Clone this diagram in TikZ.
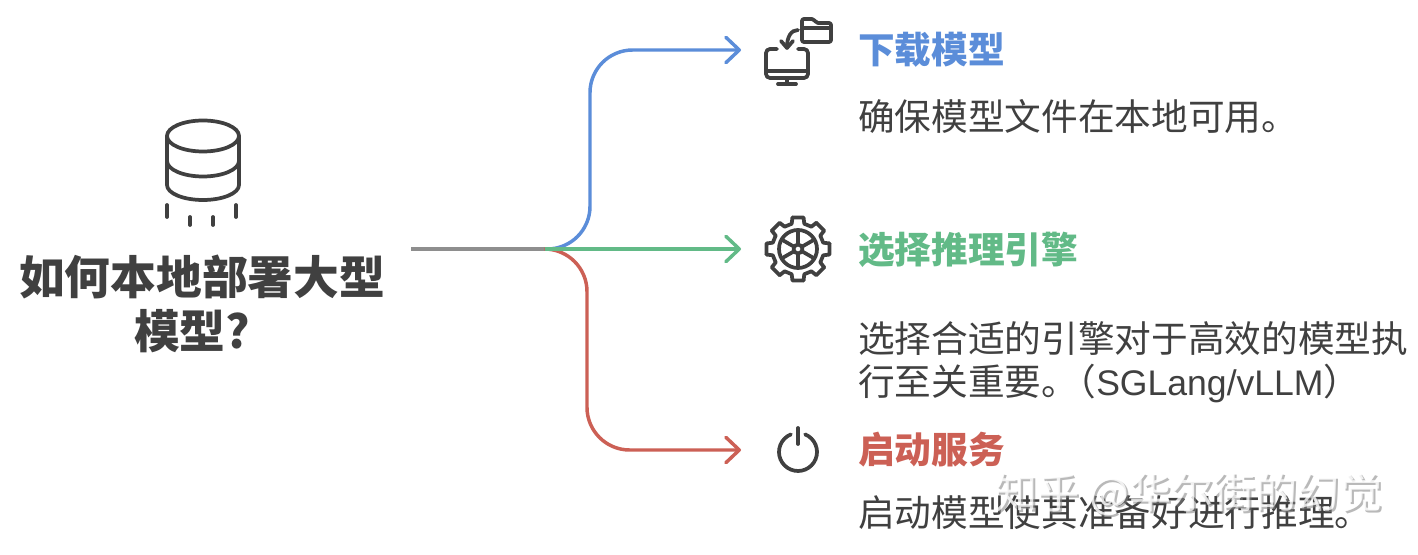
\documentclass[tikz,border=0pt]{standalone}
\usepackage{fontspec}
\setmainfont{Noto Sans CJK SC}
\newfontfamily\latinfont[Scale=0.97]{Liberation Sans}
\usepackage{tikz}
\usetikzlibrary{arrows.meta}
\definecolor{dlblue}{HTML}{5B8DD9}
\definecolor{enggreen}{HTML}{62BA87}
\definecolor{runred}{HTML}{CC6055}
\definecolor{stemgray}{HTML}{8E8E8E}
\definecolor{inkgray}{HTML}{404040}

\begin{document}
\begin{tikzpicture}[x=0.75pt,y=-0.75pt,
    link/.style={line width=2.6pt, rounded corners=32pt, -{Straight Barb[length=10pt,width=19pt,line width=2.6pt,round]}},
    icon/.style={draw=inkgray, line width=2.8pt, line cap=round, line join=round},
    titletext/.style={text=inkgray, font=\fontsize{34.3}{41}\selectfont\bfseries, align=center, inner sep=0},
    headtext/.style={anchor=base west, inner sep=0, font=\fontsize{27.5}{32}\selectfont\bfseries},
    bodytext/.style={anchor=base west, inner sep=0, text=inkgray, align=left, font=\fontsize{27.5}{32.3}\selectfont},
    markfont/.style={inner sep=0, font=\fontsize{31.6}{36}\selectfont}]
    \useasboundingbox (0,0) rectangle (1418,555);
    \fill[white] (0,0) rectangle (1418,555);

    \coordinate (stem) at (411,249);
    \coordinate (fork) at (545,249);
    \coordinate (upbend) at (590,150);
    \coordinate (lowbend) at (587,350);
    \coordinate (dlend) at (741,50);
    \coordinate (engend) at (741,249);
    \coordinate (runend) at (741,450);

    \draw[draw=stemgray, line width=2.6pt] (stem) -- (fork);
    \draw[link, draw=dlblue] (fork) -| (upbend) |- (dlend);
    \draw[link, draw=runred] (fork) -| (lowbend) |- (runend);
    \draw[link, draw=enggreen, rounded corners=0pt] (fork) -- (engend);

    % database
    \draw[icon] (203,136) ellipse (36 and 15.5);
    \draw[icon] (167,136) -- (167,185) arc (180:0:36 and 15) -- (239,136);
    \draw[icon] (167,161) arc (180:0:36 and 15.5);
    \foreach \x/\ya/\yb in {167/205/217, 190/217/225, 213/217/225, 236/205/217}
        \draw[icon] (\x,\ya) -- (\x,\yb);

    % monitor and folder
    \draw[icon, rounded corners=3pt] (777,49) -- (766,49) -- (766,78) -- (808,78) -- (808,49) -- (798,49);
    \draw[icon] (766,71) -- (808,71);
    \draw[icon] (787,78) -- (787,84) (778,84) -- (796,84);
    \draw[icon, rounded corners=1.5pt] (802,42) -- (802,19) -- (814,19) -- (816,23) -- (831,23) -- (831,42) -- cycle;
    \draw[icon] (804,28) -- (829,28);
    \draw[icon] (798,30) .. controls (791,30) and (787,37) .. (787,47);
    \draw[icon] (781,41) -- (787,48) -- (793,41);

    % gear
    \begin{scope}[shift={(798,249)}]
        \foreach \a in {0,45,...,315}
            \draw[icon] (\a-10:32) -- (\a+10:32) -- (\a+14:26) -- (\a+31:26) -- (\a+35:32);
        \draw[icon] (0,0) circle (19);
        \draw[icon] (0,0) circle (4.5);
        \foreach \a in {30,90,...,330}
            \draw[icon] (\a:4.5) -- (\a:19);
    \end{scope}

    % power
    \draw[icon] (798,452) ++(-68:19) arc (-68:248:19);
    \draw[icon] (798,428) -- (798,444);

    \node[titletext] (title) at (202,304) {如何本地部署大型\\模型?\hspace*{15pt}};

    \node[headtext, text=dlblue] (dlhead) at (858,64) {下载模型};
    \node[bodytext] (dlbody) at (858,131) {确保模型文件在本地可用。};
    \node[headtext, text=enggreen] (enghead) at (858,264) {选择推理引擎};
    \node[bodytext] (engbody) at (858,396) {选择合适的引擎对于高效的模型执\\行至关重要。\kern-14pt（{\latinfont SGLang/vLLM}）};
    \node[headtext, text=runred] (runhead) at (858,464) {启动服务};
    \node[bodytext] (runbody) at (858,527) {启动模型使其准备好进行推理。};

    \node[markfont, text=gray, opacity=0.55] (markshade) at (1191,496) {知乎 @华尔街的幻觉};
    \node[markfont, text=white, opacity=0.8] (mark) at (1189,494) {知乎 @华尔街的幻觉};
\end{tikzpicture}
\end{document}
